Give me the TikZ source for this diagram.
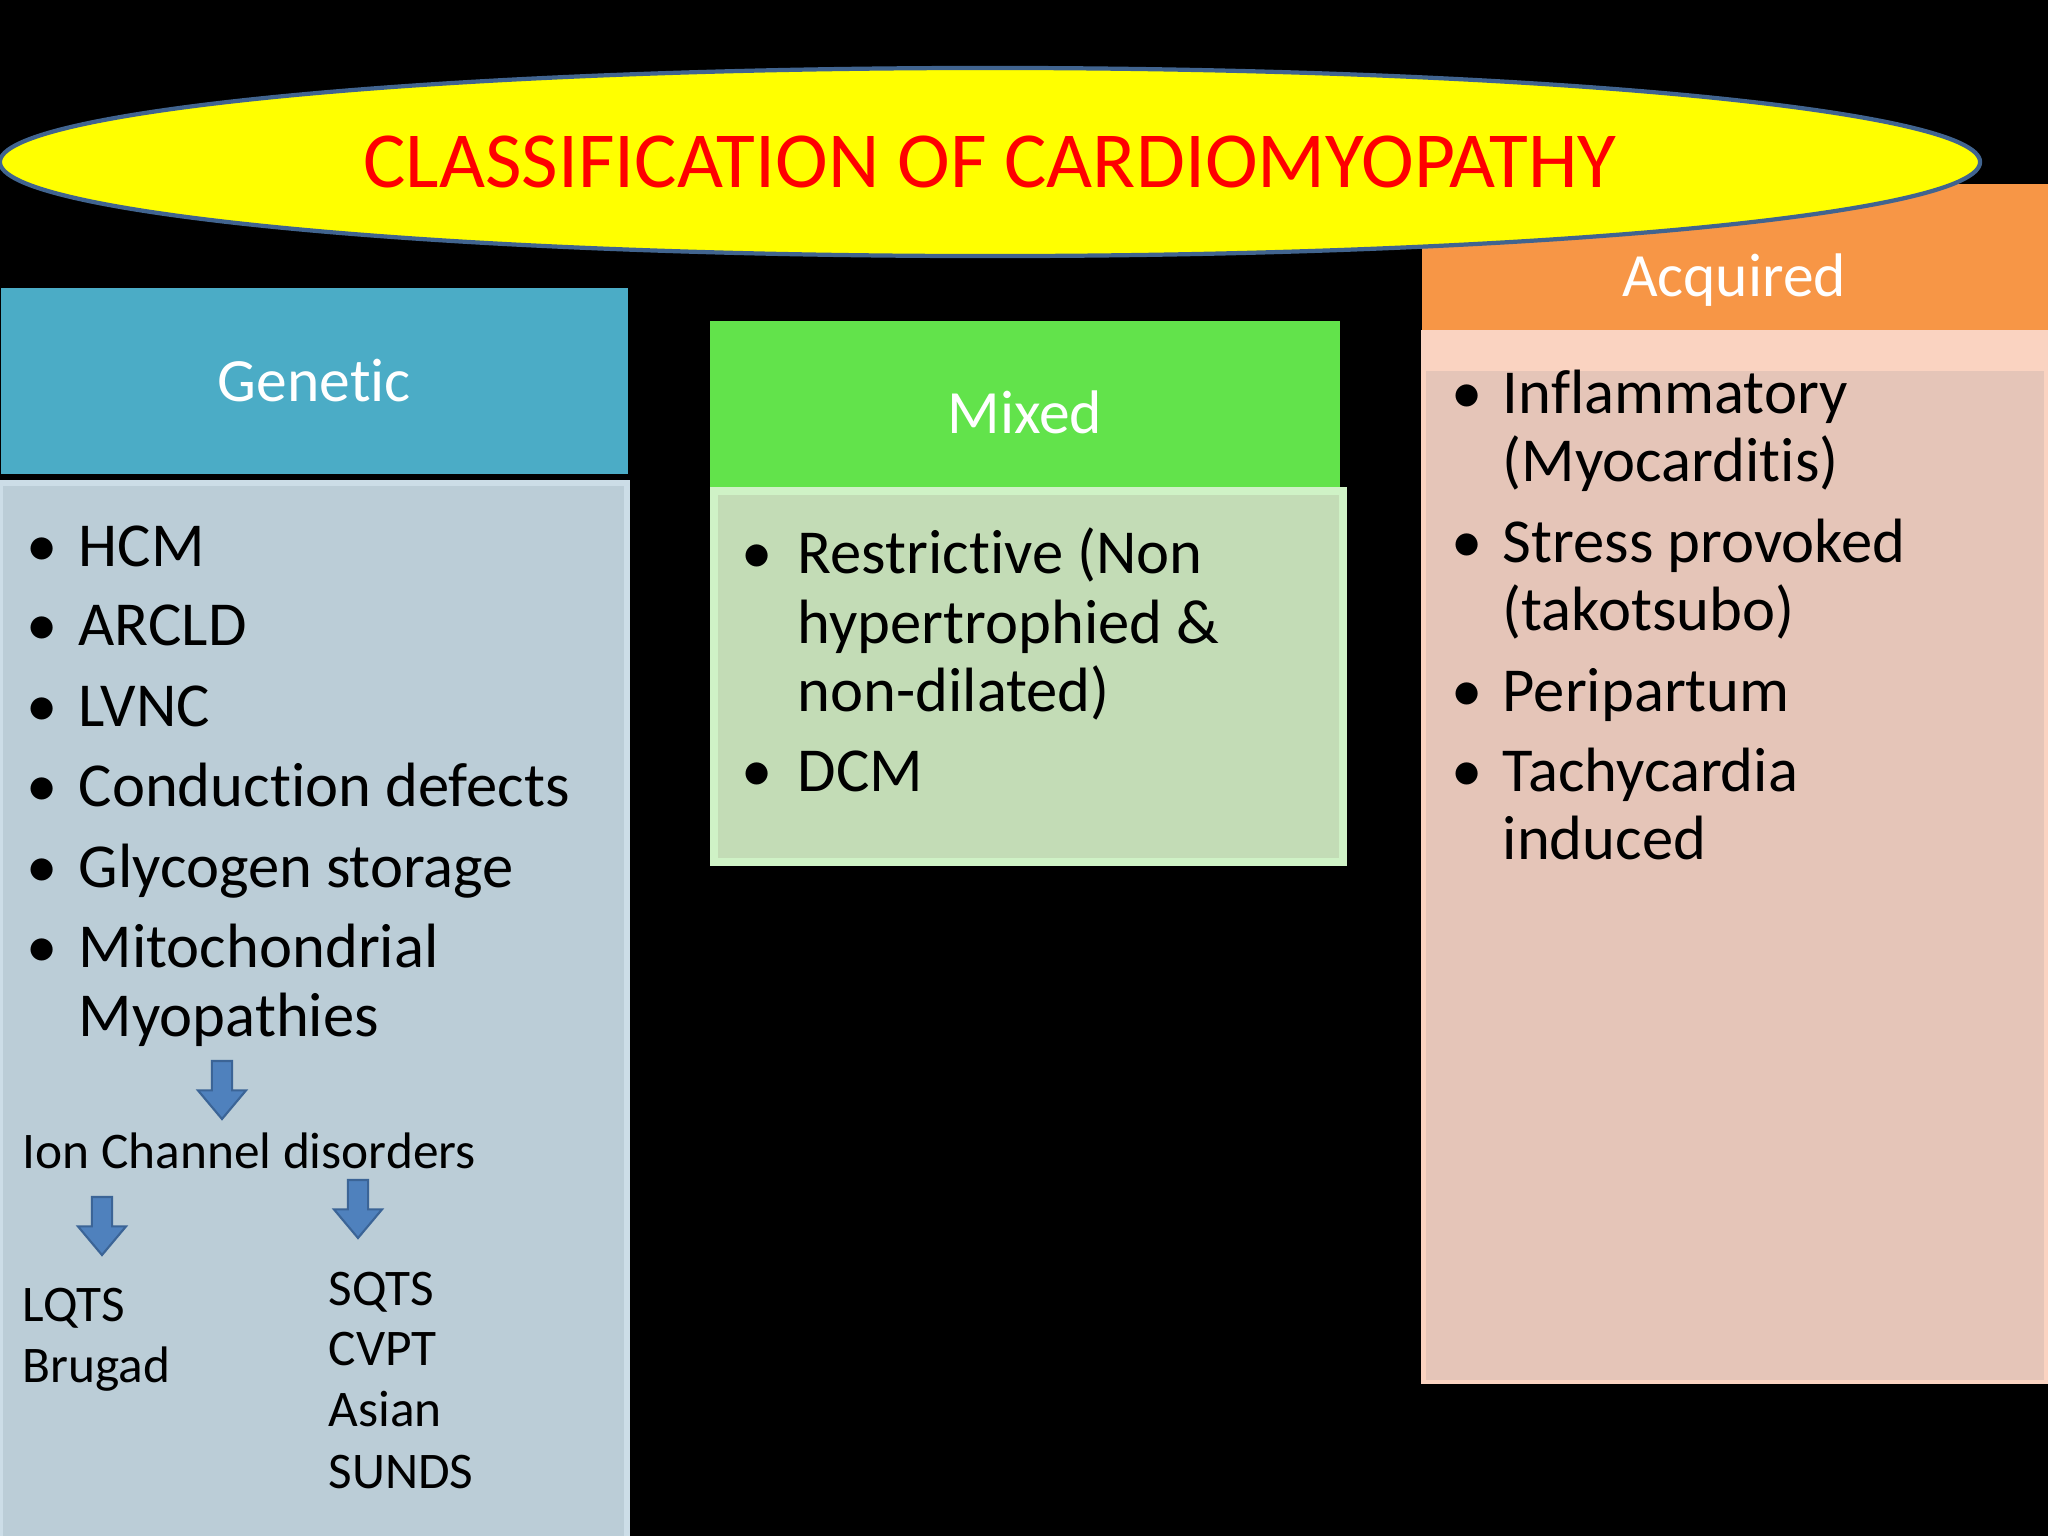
\documentclass[tikz,border=0pt]{standalone}
\usepackage{fontspec}
\setmainfont{Carlito}[Ligatures=NoCommon]
\usetikzlibrary{shapes,shapes.geometric,shapes.arrows,positioning}
\definecolor{genhd}{HTML}{4BACC6}
\definecolor{genbd}{HTML}{BBCDD7}
\definecolor{genln}{HTML}{CCDDE7}
\definecolor{mixhd}{HTML}{62E34B}
\definecolor{mixbd}{HTML}{C3DCB6}
\definecolor{mixln}{HTML}{CFF2C6}
\definecolor{acqhd}{HTML}{F79646}
\definecolor{acqbd}{HTML}{E5C5B8}
\definecolor{acqln}{HTML}{FAD3C1}
\definecolor{titlebg}{HTML}{FFFF00}
\definecolor{titleln}{HTML}{41648F}
\definecolor{arrbd}{HTML}{4F81BD}
\definecolor{arrln}{HTML}{3B6496}
\tikzset{
  hd/.style={anchor=north west, inner sep=0, text=white,
    font=\fontsize{17.5}{20}\selectfont},
  itm/.style={anchor=base west, inner sep=0, text=black,
    font=\fontsize{17.8}{21}\selectfont},
  bul/.style={itm, anchor=base},
  sml/.style={anchor=base west, inner sep=0, text=black,
    font=\fontsize{14.6}{16}\selectfont},
  blk/.style={single arrow, draw=arrln, fill=arrbd, line width=0.6pt,
    rotate=-90, inner sep=0.09cm, minimum height=0.58cm,
    single arrow head extend=0.14cm, single arrow tip angle=80}
}
\begin{document}
\begin{tikzpicture}[x=0.01cm,y=-0.01cm]
\fill[black] (0,0) rectangle (2048,1536);
\useasboundingbox (0,0) rectangle (2048,1536);
% headers
\node[hd, fill=genhd, minimum width=6.27cm, minimum height=1.86cm] (genhead) at (0,287) {Genetic};
\node[hd, fill=mixhd, minimum width=6.30cm, minimum height=1.83cm] (mixhead) at (709,320) {Mixed};
\node[hd, fill=acqhd, minimum width=6.27cm, minimum height=1.46cm] (acqhead) at (1421,183) {};
\node[hd, anchor=center] (acqtitle) at (1734,280) {Acquired};
% title
\node[ellipse, draw=titleln, line width=1.2pt, fill=titlebg, minimum width=19.79cm,
  minimum height=1.88cm, text=red, font=\fontsize{22.6}{26}\selectfont] (title) at (990,162)
  {CLASSIFICATION OF CARDIOMYOPATHY};
% bodies
\draw[genln, fill=genbd, line width=1.5pt] (0,483) rectangle (627,1540);
\draw[mixln, fill=mixbd, line width=2.5pt] (714,491) rectangle (1343,862);
\fill[acqln] (1421,330) rectangle (2048,1384);
\fill[acqbd] (1426,371) rectangle (2044,1380);
% genetic list
\node[bul] (gb1) at (42,566) {\textbullet};
\node[itm] (g1) at (78,566) {HCM};
\node[bul] (gb2) at (42,645) {\textbullet};
\node[itm] (g2) at (78,645) {ARCLD};
\node[bul] (gb3) at (42,726) {\textbullet};
\node[itm] (g3) at (78,726) {LVNC};
\node[bul] (gb4) at (42,806) {\textbullet};
\node[itm] (g4) at (78,806) {Conduction defects};
\node[bul] (gb5) at (42,887) {\textbullet};
\node[itm] (g5) at (78,887) {Glycogen storage};
\node[bul] (gb6) at (42,967) {\textbullet};
\node[itm] (g6) at (78,967) {Mitochondrial};
\node[itm] (g6b) at (78,1036) {Myopathies};
\node[blk] (ar1) at (222,1084) {};
\node[sml] (ion) at (22,1168) {Ion Channel disorders};
\node[blk] (ar2) at (102,1220) {};
\node[blk] (ar3) at (358,1203) {};
\node[sml] (lqts) at (22,1321) {LQTS};
\node[sml] (brug) at (22,1382) {Brugad};
\node[sml] (sqts) at (328,1305) {SQTS};
\node[sml] (cvpt) at (328,1365) {CVPT};
\node[sml] (asian) at (328,1426) {Asian};
\node[sml] (sunds) at (328,1488) {SUNDS};
% mixed list
\node[bul] (mb1) at (757,573) {\textbullet};
\node[itm] (m1) at (797,573) {Restrictive (Non};
\node[itm] (m1b) at (797,643) {hypertrophied \&};
\node[itm] (m1c) at (797,711) {non-dilated)};
\node[bul] (mb2) at (757,791) {\textbullet};
\node[itm] (m2) at (797,791) {DCM};
% acquired list
\node[bul] (ab1) at (1467,413) {\textbullet};
\node[itm] (a1) at (1502,413) {Inflammatory};
\node[itm] (a1b) at (1502,481) {(Myocarditis)};
\node[bul] (ab2) at (1467,562) {\textbullet};
\node[itm] (a2) at (1502,562) {Stress provoked};
\node[itm] (a2b) at (1502,630) {(takotsubo)};
\node[bul] (ab3) at (1467,711) {\textbullet};
\node[itm] (a3) at (1502,711) {Peripartum};
\node[bul] (ab4) at (1467,791) {\textbullet};
\node[itm] (a4) at (1502,791) {Tachycardia};
\node[itm] (a4b) at (1502,859) {induced};
\end{tikzpicture}
\end{document}
